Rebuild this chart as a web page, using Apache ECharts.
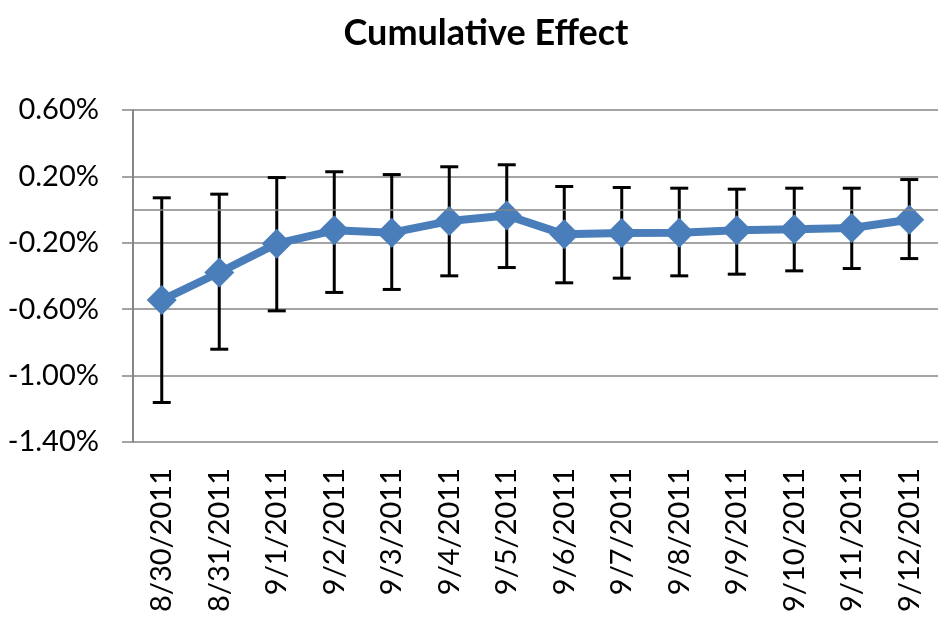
<!DOCTYPE html>
<html><head><meta charset="utf-8">
<script src="https://cdn.jsdelivr.net/npm/echarts@6/dist/echarts.min.js"></script>
<style>html,body{margin:0;padding:0;background:#fff}#c{width:948px;height:622px}</style>
</head><body><div id="c"></div>
<script>
const categories = ['8/30/2011','8/31/2011','9/1/2011','9/2/2011','9/3/2011','9/4/2011','9/5/2011','9/6/2011','9/7/2011','9/8/2011','9/9/2011','9/10/2011','9/11/2011','9/12/2011'];
const values = [-0.545,-0.379,-0.205,-0.125,-0.139,-0.069,-0.035,-0.149,-0.141,-0.139,-0.125,-0.119,-0.111,-0.061];
const upper = [0.071,0.093,0.193,0.228,0.211,0.258,0.270,0.139,0.133,0.129,0.123,0.129,0.129,0.181];
const lower = [-1.162,-0.841,-0.610,-0.499,-0.481,-0.399,-0.349,-0.441,-0.413,-0.399,-0.389,-0.369,-0.355,-0.295];
const yTicks = [-1.4,-1.0,-0.6,-0.2,0.2,0.6];

const FONT = 'Lato';
const chart = echarts.init(document.getElementById('c'));
chart.setOption({
  animation: false,
  backgroundColor: '#fff',
  title: {
    text: 'Cumulative Effect',
    left: 481, top: 10, textAlign: 'center',
    textStyle: {fontFamily: FONT, fontSize: 36, fontWeight: 'bold', color: '#000'}
  },
  grid: {left: 133, right: 10, top: 110, bottom: 180, containLabel: false},
  xAxis: {
    type: 'category', data: categories, position: 'bottom',
    axisLine: {show: false}, axisTick: {show: false}, splitLine: {show: false},
    axisLabel: {rotate: 90, margin: 26, fontSize: 29, fontFamily: FONT, color: '#000', interval: 0}
  },
  yAxis: {
    type: 'value', min: -1.4, max: 0.6,
    axisLine: {show: true, lineStyle: {color: '#868686', width: 2}},
    axisTick: {show: true, length: 11, customValues: yTicks, lineStyle: {color: '#868686', width: 1.5}},
    axisLabel: {customValues: yTicks, formatter: v => v.toFixed(2) + '%', margin: 34, fontSize: 29, fontFamily: FONT, color: '#000'},
    splitLine: {show: true, lineStyle: {color: '#868686', width: 1.5}}
  },
  series: [
    {
      type: 'custom', name: 'Error', z: 2,
      data: categories.map((c, i) => [i, upper[i], lower[i]]),
      renderItem: function (params, api) {
        const x = api.value(0);
        const hi = api.coord([x, api.value(1)]);
        const lo = api.coord([x, api.value(2)]);
        const hw = 9;
        const st = {stroke: '#000', lineWidth: 3};
        return {type: 'group', children: [
          {type: 'line', shape: {x1: hi[0], y1: hi[1], x2: lo[0], y2: lo[1]}, style: st},
          {type: 'line', shape: {x1: hi[0] - hw, y1: hi[1], x2: hi[0] + hw, y2: hi[1]}, style: st},
          {type: 'line', shape: {x1: lo[0] - hw, y1: lo[1], x2: lo[0] + hw, y2: lo[1]}, style: st}
        ]};
      }
    },
    {
      type: 'line', name: 'Cumulative Effect', z: 3,
      data: values,
      symbol: 'diamond', symbolSize: 30,
      lineStyle: {color: '#4a7ebb', width: 8},
      itemStyle: {color: '#4a7ebb'},
      markLine: {
        silent: true, symbol: 'none', label: {show: false},
        lineStyle: {color: '#868686', width: 1.5, type: 'solid'},
        data: [{yAxis: 0}]
      }
    }
  ]
});
</script></body></html>
